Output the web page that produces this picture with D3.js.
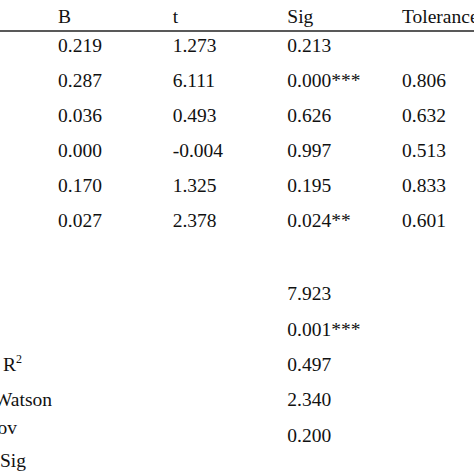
<!DOCTYPE html>
<html><head><meta charset="utf-8">
<script src="https://cdn.jsdelivr.net/npm/d3@7"></script>
<style>body{margin:0;background:#fff}text{font-family:"Liberation Serif","Times New Roman",serif;font-size:19.5px;fill:#111}</style>
</head><body><svg id="c" width="474" height="474"></svg>
<script>
const headers = ["B", "t", "Sig", "Tolerance"];
const bVals = ["0.219", "0.287", "0.036", "0.000", "0.170", "0.027"];
const tVals = ["1.273", "6.111", "0.493", "-0.004", "1.325", "2.378"];
const sigVals = ["0.213", "0.000***", "0.626", "0.997", "0.195", "0.024**"];
const tolVals = ["", "0.806", "0.632", "0.513", "0.833", "0.601"];
const statLabels = ["F", "Sig", "Adjusted R", "Durbin-Watson", "Kolmogorov-Smirnov", "Sig"];
const statVals = ["7.923", "0.001***", "0.497", "2.340", "0.200", ""];

const svg = d3.select("#c");
const x = d3.scalePoint().domain(headers).range([58, 402]);
svg.selectAll(".h").data(headers).enter().append("text")
  .attr("x", d => x(d)).attr("y", 23).text(d => d);
svg.append("line").attr("x1", 0).attr("x2", 474).attr("y1", 31).attr("y2", 31)
  .attr("stroke", "#222").attr("stroke-width", 1.5);

const y = d3.scaleLinear().domain([0, 1]).range([52, 87]);
const cols = [bVals, tVals, sigVals, tolVals];
cols.forEach((col, ci) => {
  svg.selectAll(".c" + ci).data(col).enter().append("text")
    .attr("x", x(headers[ci])).attr("y", (d, i) => y(i)).text(d => d);
});

const ys = [300, 336, 371, 406, 434, 467];
const labelEnd = [-40, -40, 22, 52, 17, 26];
statVals.forEach((v, i) => {
  if (v) svg.append("text").attr("x", x("Sig")).attr("y", ys[i] + (i === 4 ? 8 : 0)).text(v);
  const t = svg.append("text").attr("x", labelEnd[i]).attr("y", ys[i]).attr("text-anchor", "end").text(statLabels[i]);
  if (i === 2) t.append("tspan").attr("dy", -8).style("font-size", "12px").text("2");
});
</script></body></html>
